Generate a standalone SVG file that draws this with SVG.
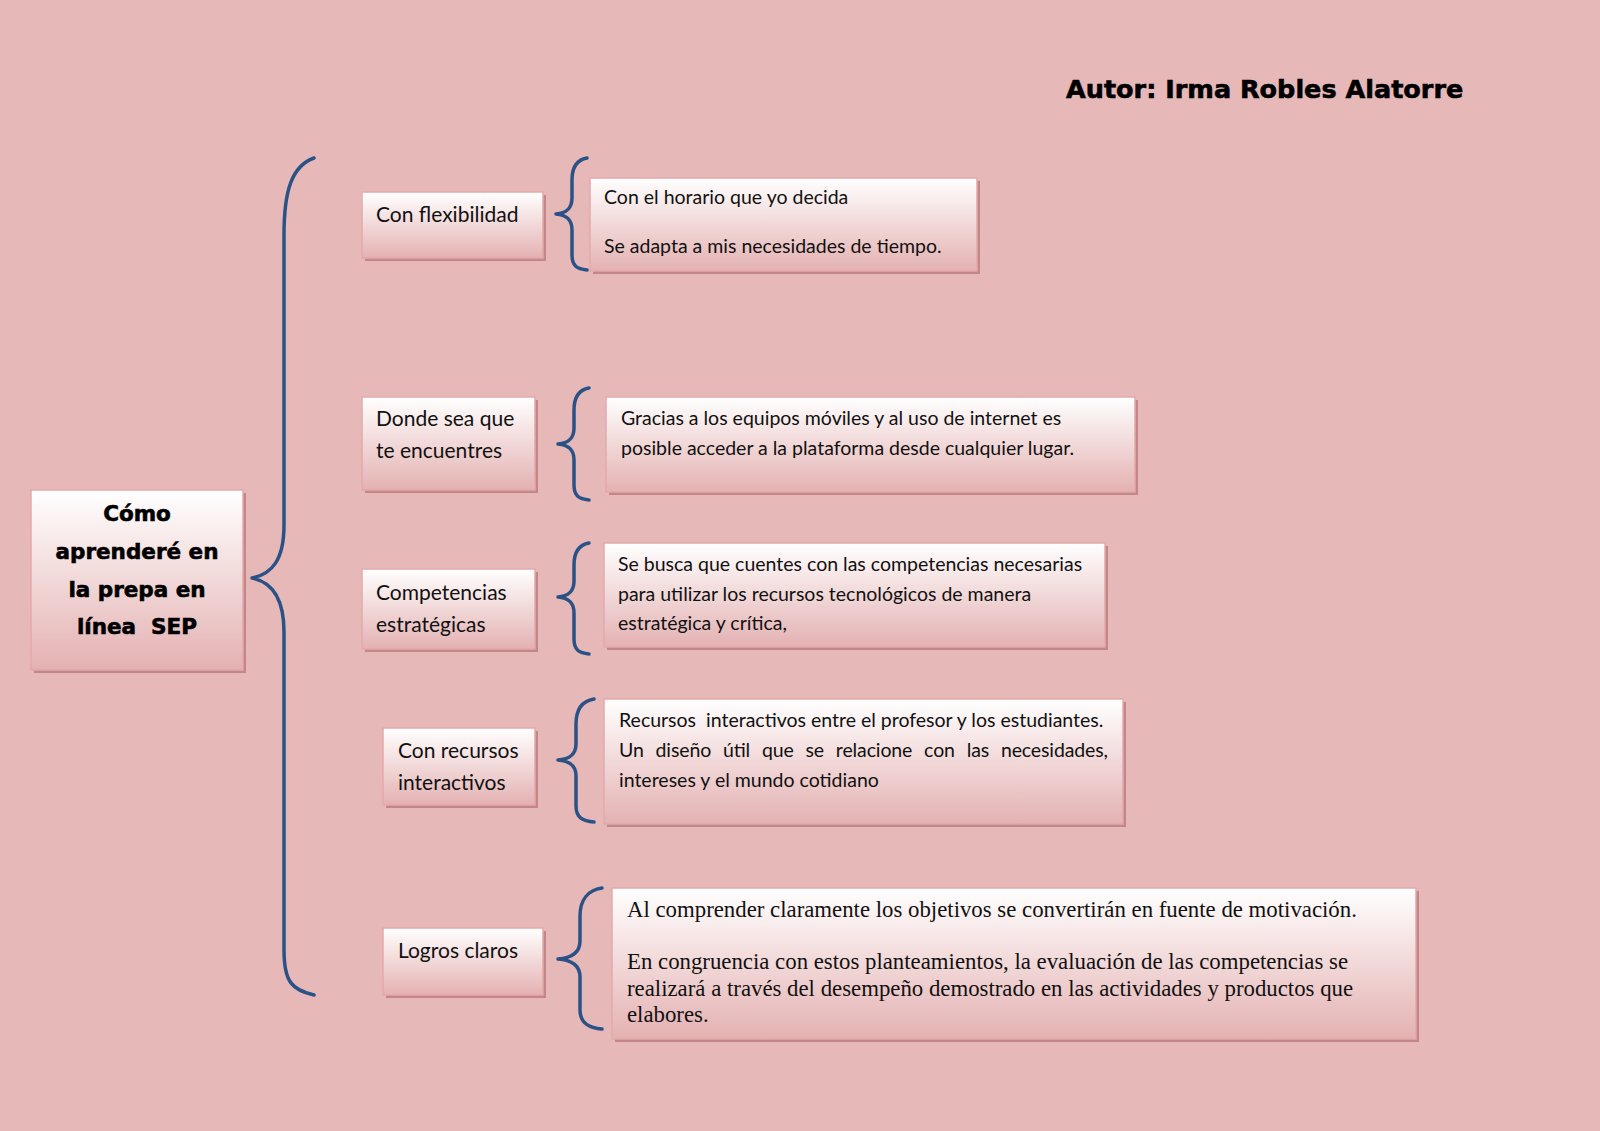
<svg xmlns="http://www.w3.org/2000/svg" width="1600" height="1131" viewBox="0 0 1600 1131">
<defs>
<linearGradient id="boxg" x1="0" y1="0" x2="0" y2="1">
<stop offset="0" stop-color="#ffffff"/>
<stop offset="0.45" stop-color="#f3dcdc"/>
<stop offset="1" stop-color="#e4b1b2"/>
</linearGradient>
</defs>
<style>
.bg{fill:#e6b8b8}
.shadow{fill:#c48789}
.box{fill:url(#boxg);stroke:#e3a9aa;stroke-width:1.5}
.brace{fill:none;stroke:#2b5287;stroke-width:3.5;stroke-linecap:round;stroke-linejoin:round}
.t{font-family:Lato,"Open Sans","Liberation Sans",sans-serif;font-size:19.5px;fill:#111}
.l{font-family:Lato,"Open Sans","Liberation Sans",sans-serif;font-size:21px;fill:#111}
.s{font-family:"Liberation Serif","Times New Roman",serif;font-size:22.8px;fill:#111}
.h{font-family:"DejaVu Sans",Verdana,sans-serif;font-weight:bold;fill:#000;stroke:#000;stroke-width:0.6}
</style>
<rect class="bg" x="0" y="0" width="1600" height="1131"/>
<text class="h" x="1066" y="98" font-size="25.5">Autor: Irma Robles Alatorre</text>

<g id="connectors">
<path class="brace" stroke-width="4.5" d="M314,158 C292,166 284,190 284,235 L284,525 C284,560 272,574 252,578 C272,582 284,598 284,632 L284,950 C284,982 292,990 314,995"/>
<path class="brace" d="M587,158 C576,160 572,168 572,180 L572,198 C572,209 566,213 556,214 C566,215 572,219 572,230 L572,255 C572,266 577,269 587,270"/>
<path class="brace" d="M589,388 C578,390 574,398 574,410 L574,428 C574,439 568,443 558,444 C568,445 574,449 574,460 L574,485 C574,496 579,499 589,500"/>
<path class="brace" d="M589,543 C578,545 574,553 574,565 L574,581 C574,592 568,596 558,597 C568,598 574,602 574,613 L574,639 C574,650 579,653 589,654"/>
<path class="brace" d="M594,699 C582,701 576,710 576,724 L576,744 C576,755 569,759 558,760 C569,761 576,765 576,776 L576,806 C576,818 583,821 594,822"/>
<path class="brace" d="M602,888 C588,890 580,900 580,916 L580,941 C580,953 571,958 558,959 C571,960 580,965 580,977 L580,1010 C580,1024 590,1028 602,1029"/>
</g>

<g id="root">
<rect class="shadow" x="34" y="493" width="212" height="180"/>
<rect class="box" x="31" y="490" width="212" height="180"/>
<text class="h" font-size="21.5" text-anchor="middle"><tspan x="137" y="521">Cómo</tspan><tspan x="137" y="559">aprenderé en</tspan><tspan x="137" y="597">la prepa en</tspan><tspan x="137" y="634" xml:space="preserve">línea  SEP</tspan></text>
</g>

<g id="n1">
<rect class="shadow" x="365" y="195" width="181" height="66"/>
<rect class="box" x="362" y="192" width="181" height="66"/>
<text class="l" x="376" y="222">Con flexibilidad</text>
</g>
<g id="n1d">
<rect class="shadow" x="593" y="181" width="387" height="93"/>
<rect class="box" x="590" y="178" width="387" height="93"/>
<text class="t" x="604" y="204">Con el horario que yo decida</text>
<text class="t" x="604" y="253">Se adapta a mis necesidades de tiempo.</text>
</g>

<g id="n2">
<rect class="shadow" x="365" y="400" width="173" height="93"/>
<rect class="box" x="362" y="397" width="173" height="93"/>
<text class="l" x="376" y="426">Donde sea que</text>
<text class="l" x="376" y="458">te encuentres</text>
</g>
<g id="n2d">
<rect class="shadow" x="609" y="400" width="529" height="95"/>
<rect class="box" x="606" y="397" width="529" height="95"/>
<text class="t" x="621" y="425">Gracias a los equipos móviles y al uso de internet es</text>
<text class="t" x="621" y="455">posible acceder a la plataforma desde cualquier lugar.</text>
</g>

<g id="n3">
<rect class="shadow" x="365" y="572" width="173" height="80"/>
<rect class="box" x="362" y="569" width="173" height="80"/>
<text class="l" x="376" y="600">Competencias</text>
<text class="l" x="376" y="632">estratégicas</text>
</g>
<g id="n3d">
<rect class="shadow" x="607" y="546" width="501" height="104"/>
<rect class="box" x="604" y="543" width="501" height="104"/>
<text class="t" x="618" y="571">Se busca que cuentes con las competencias necesarias</text>
<text class="t" x="618" y="601">para utilizar los recursos tecnológicos de manera</text>
<text class="t" x="618" y="630">estratégica y crítica,</text>
</g>

<g id="n4">
<rect class="shadow" x="386" y="731" width="152" height="77"/>
<rect class="box" x="383" y="728" width="152" height="77"/>
<text class="l" x="398" y="758">Con recursos</text>
<text class="l" x="398" y="790">interactivos</text>
</g>
<g id="n4d">
<rect class="shadow" x="607" y="702" width="519" height="125"/>
<rect class="box" x="604" y="699" width="519" height="125"/>
<text class="t" x="619" y="727" xml:space="preserve">Recursos  interactivos entre el profesor y los estudiantes.</text>
<text class="t" x="619" y="757" textLength="489" lengthAdjust="spacing" word-spacing="7">Un diseño útil que se relacione con las necesidades,</text>
<text class="t" x="619" y="787">intereses y el mundo cotidiano</text>
</g>

<g id="n5">
<rect class="shadow" x="386" y="931" width="160" height="67"/>
<rect class="box" x="383" y="928" width="160" height="67"/>
<text class="l" x="398" y="958">Logros claros</text>
</g>
<g id="n5d">
<rect class="shadow" x="615" y="891" width="804" height="151"/>
<rect class="box" x="612" y="888" width="804" height="151"/>
<text class="s" x="627" y="917">Al comprender claramente los objetivos se convertirán en fuente de motivación.</text>
<text class="s" x="627" y="969">En congruencia con estos planteamientos, la evaluación de las competencias se</text>
<text class="s" x="627" y="996">realizará a través del desempeño demostrado en las actividades y productos que</text>
<text class="s" x="627" y="1022">elabores.</text>
</g>
</svg>
